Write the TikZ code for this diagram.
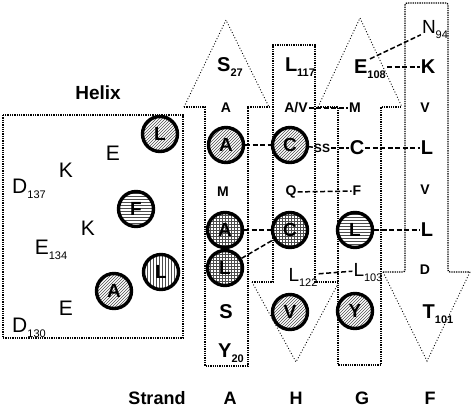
\documentclass[tikz,border=0pt]{standalone}
\usepackage{fontspec}
\setmainfont{Liberation Sans}
\usetikzlibrary{patterns}
\newcommand\resno[1]{\smash{\raisebox{-0.45ex}{\fontsize{11}{11}\selectfont #1}}}
\tikzset{box/.style={line width=1.3pt, densely dotted}}
\tikzset{head/.style={line width=0.9pt, dotted}}
\tikzset{link/.style={line width=1.5pt, dash pattern=on 5pt off 2.5pt}}
\tikzset{res/.style={shape=circle, draw, line width=3.4pt, minimum size=35pt,
    inner sep=0pt, preaction={fill=white}, pattern color=black!70,
    font=\bfseries\fontsize{19}{19}\selectfont}}
\tikzset{big/.style={font=\bfseries\fontsize{20}{20}\selectfont, inner sep=1pt}}
\tikzset{small/.style={font=\bfseries\fontsize{14}{14}\selectfont, inner sep=1pt}}
\tikzset{hel/.style={font=\fontsize{21}{21}\selectfont, inner sep=1pt}}
\tikzset{mid/.style={font=\fontsize{19}{19}\selectfont, inner sep=1pt}}
\tikzset{strandname/.style={font=\bfseries\fontsize{18}{18}\selectfont}}
\begin{document}
\begin{tikzpicture}[x=1pt, y=-1pt]
  \useasboundingbox (0,0) rectangle (474,407);
  %%%% helix
  \draw[box] (3,115) rectangle (183,338);
  \node[font=\bfseries\fontsize{19}{19}\selectfont] (helix) at (98,93) {Helix};
  \node[res, pattern=north east lines] (lh1) at (160,134) {L};
  \node[res, pattern=horizontal lines] (fh) at (136,209) {F};
  \node[res, pattern=vertical lines] (lh2) at (161,272) {L};
  \node[res, pattern=north east lines] (ah) at (114,291) {A};
  \node[hel] (eh1) at (113,153) {E};
  \node[hel] (kh1) at (66,170) {K};
  \node[hel] (dh1) at (29,186) {D\resno{137}};
  \node[hel] (kh2) at (88,228) {K};
  \node[hel] (eh2) at (51,247) {E\resno{134}};
  \node[hel] (eh3) at (66,308) {E};
  \node[hel] (dh2) at (29,325) {D\resno{130}};
  %%%% strand A (up)
  \draw[box] (184,107) -- (205,107) -- (205,366) -- (248,366) -- (248,107) -- (269,107);
  \draw[head] (184,107) -- (226,20) -- (269,107);
  \node[big] (sA) at (230,65) {S\resno{27}};
  \node[small] (aA) at (226,108) {A};
  \node[res, pattern=north east lines] (aA1) at (226,145) {A};
  \node[small] (mA) at (223,192) {M};
  \node[res, pattern=grid] (aA2) at (225,230) {A};
  \node[res, pattern=grid] (lA) at (225,268) {L};
  \node[big] (sA2) at (226,312) {S};
  \node[big] (yA) at (231,351) {Y\resno{20}};
  %%%% strand H (down)
  \draw[box] (252,282) -- (273,282) -- (273,45) -- (315,45) -- (315,282) -- (339,282);
  \draw[head] (252,282) -- (296,362) -- (339,282);
  \node[big] (lH) at (300,65) {L\resno{117}};
  \node[small] (avH) at (296,108) {A/V};
  \node[res, pattern=north east lines] (cH1) at (290,145) {C};
  \node[small] (qH) at (291,192) {Q};
  \node[res, pattern=grid] (cH2) at (290,230) {C};
  \node[mid] (lH2) at (303,275) {L\resno{122}};
  \node[res, pattern=north east lines] (vH) at (290,312) {V};
  %%%% strand G (up)
  \draw[box] (318,107) -- (338,107) -- (338,365) -- (381,365) -- (381,107) -- (402,107);
  \draw[head] (318,107) -- (360,18) -- (402,107);
  \node[big] (eG) at (370,67) {E\resno{108}};
  \node[small] (mG) at (355,108) {M};
  \node[font=\bfseries\fontsize{12}{12}\selectfont, inner sep=1pt] (ss) at (322,148) {SS};
  \node[big] (cG) at (357,148) {C};
  \node[small] (fG) at (357,191) {F};
  \node[res, pattern=horizontal lines] (lG) at (355,230) {L};
  \node[mid] (lG2) at (368,270) {L\resno{103}};
  \node[res, pattern=north east lines] (yG) at (355,311) {Y};
  %%%% strand F (down)
  \draw[box, rounded corners=2pt] (383,272) -- (405,272) -- (405,3) -- (448,3) -- (448,272) -- (470,272);
  \draw[head] (383,272) -- (427,361) -- (470,272);
  \node[mid] (nF) at (435,27) {N\resno{94}};
  \node[big] (kF) at (428,67) {K};
  \node[small] (vF1) at (425,108) {V};
  \node[big] (lF1) at (427,148) {L};
  \node[small] (vF2) at (425,190) {V};
  \node[big] (lF2) at (427,230) {L};
  \node[small] (dF) at (425,270) {D};
  \node[big] (tF) at (438,312) {T\resno{101}};
  %%%% contacts
  \draw[link] (aA1) -- (cH1);
  \draw[link] (cH1) -- (ss);
  \draw[link] (ss) -- (cG);
  \draw[link] (cG) -- (lF1);
  \draw[link] (avH) -- (mG);
  \draw[link] (qH) -- (fG);
  \draw[link] (aA2) -- (cH2);
  \draw[link] (lA) -- (cH2);
  \draw[link] (lH2) -- (lG2);
  \draw[link] (lG) -- (lF2);
  \draw[link] (eG) -- (kF);
  \draw[link] (eG.north) -- (nF.south west);
  %%%% strand names
  \node[strandname] (strand) at (157,398) {Strand};
  \node[strandname] (nA) at (230,398) {A};
  \node[strandname] (nH) at (296,398) {H};
  \node[strandname] (nG) at (362,398) {G};
  \node[strandname] (nF2) at (430,398) {F};
\end{tikzpicture}
\end{document}
